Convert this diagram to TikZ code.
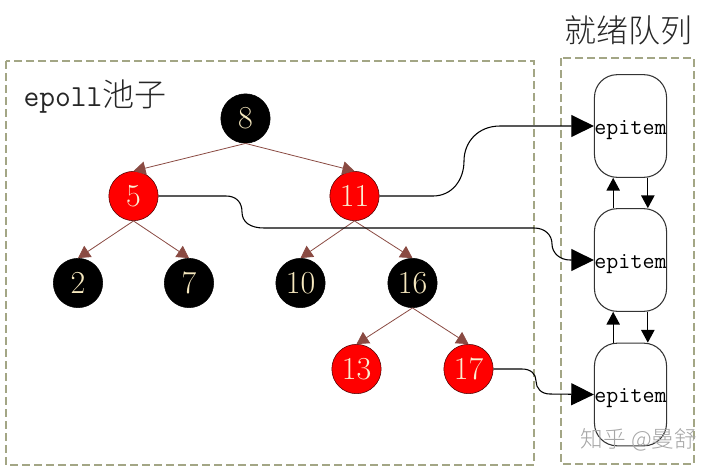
\documentclass[tikz,border=0pt]{standalone}
\usepackage{fontspec}
\newfontfamily\cjkfont{Noto Sans CJK SC Light}
\usetikzlibrary{arrows.meta}
\definecolor{poolline}{HTML}{A3A685}
\definecolor{edgebrown}{HTML}{8A4A42}
\definecolor{numcream}{HTML}{F6E8BE}
\newcommand{\itemtext}{\raisebox{-3pt}[9pt][3pt]{epitem}}
\tikzset{
  blacknode/.style={circle,fill=black,draw=black,minimum size=37pt,inner sep=0pt,text=numcream,font=\fontsize{24}{24}\selectfont},
  rednode/.style={circle,fill=red,draw=black!70!red,minimum size=37pt,inner sep=0pt,text=numcream!70!white,font=\fontsize{24}{24}\selectfont},
  epitembox/.style={draw=black!80,line width=0.8pt,rounded corners=17pt,minimum width=53.5pt,minimum height=77pt,inner sep=0pt,font=\ttfamily\fontsize{17.5}{17.5}\selectfont},
  poolbox/.style={draw=poolline,line width=0.8pt,dash pattern=on 6pt off 3pt},
  treeedge/.style={draw=edgebrown,line width=0.6pt,-{Triangle[length=9pt,width=10pt]}},
  readylink/.style={draw=black,line width=0.8pt,-{Triangle[length=17pt,width=16.5pt]}},
  queuelink/.style={draw=black,line width=0.9pt,-{Triangle[length=9.5pt,width=10pt]}}
}
\begin{document}
\begin{tikzpicture}[x=0.75pt,y=-0.75pt]
      \useasboundingbox (0,0) rectangle (713,472);

      % Dashed frames
      \draw[poolbox] (6,61) rectangle (534,465);
      \draw[poolbox] (561,58) rectangle (694,464);

      % Titles
      \node[inner sep=0pt,text=black!85,font=\ttfamily\fontsize{23}{23}\selectfont] (pooltitle) at (95,97)
        {epoll{\cjkfont\fontsize{24}{24}\selectfont 池子}};
      \node[inner sep=0pt,text=black!85,font=\cjkfont\fontsize{24}{24}\selectfont] (queuetitle) at (628,30) {就绪队列};

      % Tree nodes
      \node[blacknode] (n8) at (245.5,118.5) {8};
      \node[rednode] (n5) at (133.5,196) {5};
      \node[rednode] (n11) at (354.5,196) {11};
      \node[blacknode] (n2) at (78,283) {2};
      \node[blacknode] (n7) at (189,283) {7};
      \node[blacknode] (n10) at (300.5,283) {10};
      \node[blacknode] (n16) at (412.5,283) {16};
      \node[rednode] (n13) at (356.5,369) {13};
      \node[rednode] (n17) at (468.5,369) {17};

      % Tree edges
      \foreach \a/\b in {n8/n5, n8/n11, n5/n2, n5/n7, n11/n10, n11/n16, n16/n13, n16/n17} {
        \draw[treeedge] (\a.south) -- (\b.north);
      }

      % Ready queue
      \node[epitembox] (e1) at (630.5,126) {\itemtext};
      \node[epitembox] (e2) at (630.5,260) {\itemtext};
      \node[epitembox] (e3) at (630.5,394.5) {\itemtext};

      % Links between queue items
      \draw[queuelink] ([xshift=-13pt]e2.north) -- ([xshift=-13pt]e1.south);
      \draw[queuelink] ([xshift=13pt]e1.south) -- ([xshift=13pt]e2.north);
      \draw[queuelink] ([xshift=-13pt]e3.north) -- ([xshift=-13pt]e2.south);
      \draw[queuelink] ([xshift=13pt]e2.south) -- ([xshift=13pt]e3.north);

      % Tree nodes to queue items
      \draw[readylink] (n11.east) -- (433,196) .. controls (452,196) and (464,180) .. (464,161)
        .. controls (464,142) and (478,126) .. (500,126) -- (e1.west);
      \draw[readylink] (n5.east) -- (226,196) .. controls (236,196) and (242,202) .. (242,212)
        .. controls (242,222) and (250,228) .. (264,228) -- (534,228)
        .. controls (545,228) and (552,235) .. (552,244)
        .. controls (552,253) and (560,260) .. (570,260) -- (e2.west);
      \draw[readylink] (n17.east) -- (522,369) .. controls (531,369) and (536,374) .. (536,381)
        .. controls (536,388) and (541,394) .. (550,394) -- (e3.west);

      % Watermark
      \node[inner sep=0pt,text=black!35,font=\cjkfont\fontsize{17}{17}\selectfont] (mark) at (639,440) {知乎 @曼舒};
\end{tikzpicture}
\end{document}
